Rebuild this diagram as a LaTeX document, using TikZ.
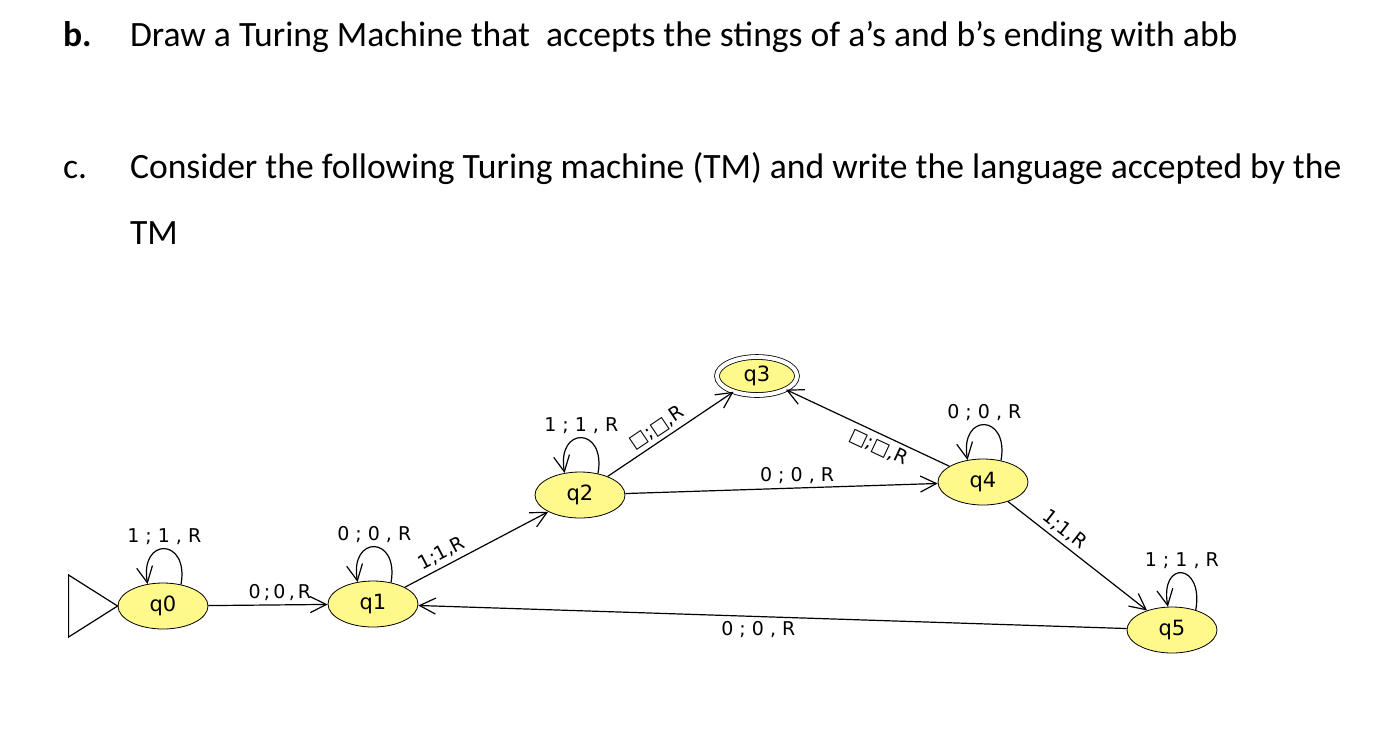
\documentclass[tikz,border=0pt]{standalone}
\usepackage{fontspec}
\setmainfont{Carlito}
\newfontfamily\tmfont{DejaVu Sans}
\usetikzlibrary{arrows.meta,shapes.geometric}
\tikzset{
  tmstate/.style={draw, ellipse, fill=yellow!45, minimum width=45pt, minimum height=23pt, inner sep=0pt, font=\tmfont\fontsize{10.5}{12}\selectfont},
  tmaccept/.style={tmstate, double, double distance=2pt, minimum width=40pt, minimum height=19pt},
  tmedge/.style={-{Straight Barb[length=8pt,width=8pt]}, semithick},
  tmlabel/.style={font=\tmfont\fontsize{9.5}{11}\selectfont, inner sep=2pt},
  tmloop/.style={tmedge, out=80, in=100, distance=24pt}
}
\begin{document}
\begin{tikzpicture}[x=0.5pt, y=-0.5pt]
  \useasboundingbox (0,0) rectangle (1394,736);
  % question text
  \node[anchor=base west, font=\fontsize{17.8}{21}\selectfont\bfseries] (qb) at (56,46) {b.};
  \node[anchor=base west, font=\fontsize{17.8}{21}\selectfont] (qbtext) at (123,46) {Draw a Turing Machine that\ \ accepts the stings of a’s and b’s ending with abb};
  \node[anchor=base west, font=\fontsize{17.8}{21}\selectfont] (qc) at (56,178) {c.};
  \node[anchor=base west, font=\fontsize{17.8}{21}\selectfont] (qctext) at (123,178) {Consider the following Turing machine (TM) and write the language accepted by the};
  \node[anchor=base west, font=\fontsize{17.8}{21}\selectfont] (qctm) at (123,244) {TM};

  % states
  \node[tmstate] (q0) at (163,606) {q0};
  \node[tmstate] (q1) at (373,604) {q1};
  \node[tmstate] (q2) at (580,495) {q2};
  \node[tmaccept] (q3) at (757,376) {q3};
  \node[tmstate] (q4) at (983,482) {q4};
  \node[tmstate] (q5) at (1172,630) {q5};

  % start marker
  \draw[semithick] (q0.west) -- ++(-49,-31) -- ++(0,62) -- cycle;

  % transitions
  \draw[tmedge] (q0) -- node[tmlabel, above, pos=0.6] {0\,;\,0\,,\,R} (q1);
  \draw[tmedge] (q1) -- node[tmlabel, above, sloped, pos=0.3] {1;1,R} (q2);
  \draw[tmedge] (q2) -- node[tmlabel, above, sloped, pos=0.45] {□;□,R} (q3);
  \draw[tmedge] (q2) -- node[tmlabel, above, pos=0.55] {0 ; 0 , R} (q4);
  \draw[tmedge] (q4) -- node[tmlabel, below, sloped, pos=0.4] {□;□,R} (q3);
  \draw[tmedge] (q4) -- node[tmlabel, above, sloped, pos=0.35] {1;1,R} (q5);
  \draw[tmedge] (q5) -- node[tmlabel, below, pos=0.52] {0 ; 0 , R} (q1);

  % loops
  \draw[tmloop] (q0.50) to node[tmlabel, above] {1 ; 1 , R} (q0.125);
  \draw[tmloop] (q1.50) to node[tmlabel, above] {0 ; 0 , R} (q1.125);
  \draw[tmloop] (q2.50) to node[tmlabel, above] {1 ; 1 , R} (q2.125);
  \draw[tmloop] (q4.50) to node[tmlabel, above] {0 ; 0 , R} (q4.125);
  \draw[tmloop] (q5.40) to node[tmlabel, above] {1 ; 1 , R} (q5.100);
\end{tikzpicture}
\end{document}
